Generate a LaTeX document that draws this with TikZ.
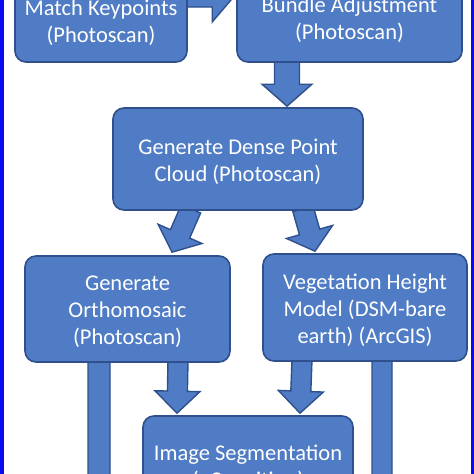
\documentclass[tikz,border=0pt]{standalone}
\usepackage{fontspec}
\setmainfont{Carlito}
\usetikzlibrary{calc}
\definecolor{boxfill}{RGB}{79,124,196}
\definecolor{boxline}{RGB}{47,80,140}
\definecolor{framecol}{RGB}{10,10,240}
\pgfdeclarelayer{bg}
\pgfsetlayers{bg,main}
\newcommand\lowstrut{\rule{0pt}{21pt}}
\tikzset{
  procbox/.style={rectangle, rounded corners=11pt, fill=boxfill, draw=boxline,
    line width=1.6pt, text=white, align=center, inner sep=0pt,
    font=\fontsize{22.5}{27}\selectfont},
  blockarr/.style={fill=boxfill, draw=boxline, line width=1.4pt, line join=miter}
}
\newcommand\blockarrow[5]{%
  \filldraw[blockarr] let \p1=(#1), \p2=(#2),
    \n1={atan2(\y2-\y1,\x2-\x1)}, \n2={veclen(\x2-\x1,\y2-\y1)} in
    [shift={(\x1,\y1)}, rotate=\n1]
    (0pt,-#3) -- ({\n2-#5},-#3) -- ({\n2-#5},-#4) -- ({\n2+0pt},0pt)
    -- ({\n2-#5},#4) -- ({\n2-#5},#3) -- (0pt,#3) -- cycle;}
\begin{document}
\begin{tikzpicture}[x=1pt,y=-1pt]
\useasboundingbox (0,0) rectangle (474,474);
\clip (0,0) rectangle (474,474);
% process boxes
\node[procbox, minimum width=172pt, minimum height=83pt] (b1) at (101,20.5) {\lowstrut Match Keypoints\\(Photoscan)};
\node[procbox, minimum width=225pt, minimum height=90pt] (b2) at (349.5,17) {\lowstrut Bundle Adjustment\\(Photoscan)};
\node[procbox, minimum width=250pt, minimum height=102pt] (b3) at (238,159) {\lowstrut Generate Dense Point\\Cloud (Photoscan)};
\node[procbox, minimum width=205pt, minimum height=106pt] (b4) at (127.5,309) {\lowstrut Generate\\Orthomosaic\\(Photoscan)};
\node[procbox, minimum width=204pt, minimum height=107pt] (b5) at (365,307.5) {\lowstrut Vegetation Height\\Model (DSM-bare\\earth) (ArcGIS)};
\node[procbox, minimum width=210pt, minimum height=98pt] (b6) at (248,465) {\lowstrut Image Segmentation\\(eCognition)};
\coordinate (endL) at (99,560);
\coordinate (endR) at (382,560);
% block arrows behind the boxes
\begin{pgfonlayer}{bg}
\blockarrow{[yshift=25.5pt,xshift=-2pt]b1.east}{[yshift=22pt,xshift=-1pt]b2.west}{12pt}{27pt}{23pt}
\blockarrow{[xshift=-62.5pt,yshift=2pt]b2.south}{[xshift=49pt,yshift=1pt]b3.north}{12.5pt}{25pt}{22pt}
\blockarrow{[xshift=-47pt,yshift=2pt]b3.south}{[xshift=44.5pt,yshift=3pt]b4.north}{10.5pt}{24pt}{20pt}
\blockarrow{[xshift=65pt,yshift=2pt]b3.south}{[xshift=-50pt,yshift=2pt]b5.north}{10.5pt}{24pt}{20pt}
\blockarrow{[xshift=50.5pt,yshift=2pt]b4.south}{[xshift=-71pt,yshift=2pt]b6.north}{10pt}{22.5pt}{22pt}
\blockarrow{[xshift=-63pt,yshift=2pt]b5.south}{[xshift=52pt,yshift=2pt]b6.north}{10pt}{22.5pt}{22pt}
\blockarrow{[xshift=-28.5pt,yshift=2pt]b4.south}{endL}{11pt}{24pt}{22pt}
\blockarrow{[xshift=17pt,yshift=2pt]b5.south}{endR}{10pt}{24pt}{22pt}
\end{pgfonlayer}
% side frame
\fill[framecol] (0,0) rectangle (3.5,474);
\fill[framecol] (470.5,0) rectangle (474,474);
\end{tikzpicture}
\end{document}
